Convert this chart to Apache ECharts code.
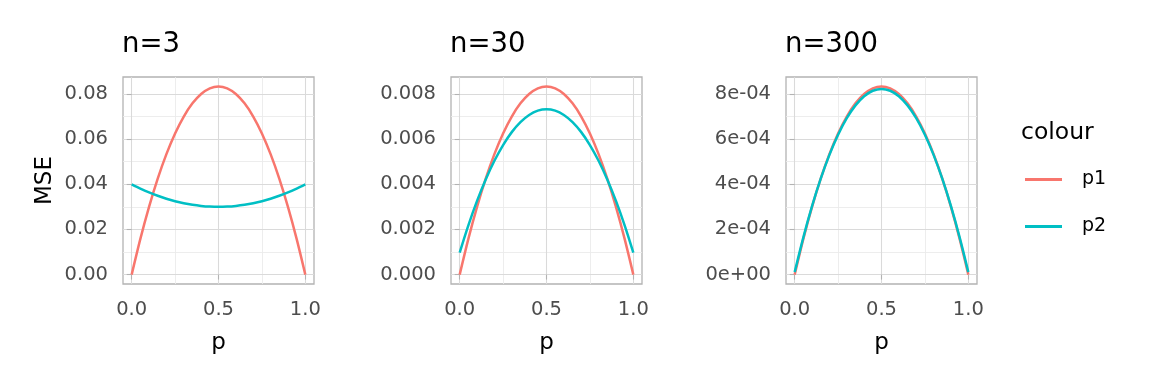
<!DOCTYPE html>
<html>
<head>
<meta charset="utf-8">
<script src="https://cdn.jsdelivr.net/npm/echarts@6/dist/echarts.min.js"></script>
<style>html,body{margin:0;padding:0;background:#fff}#c{width:1152px;height:384px}</style>
</head>
<body>
<div id="c"></div>
<script>
// ---- data ----
const pValues = [0,0.05,0.1,0.15,0.2,0.25,0.3,0.35,0.4,0.45,0.5,0.55,0.6,0.65,0.7,0.75,0.8,0.85,0.9,0.95,1];
const panelTitles = ['n=3', 'n=30', 'n=300'];
const seriesNames = ['p1', 'p2'];

const p1_n3 = [0,0.01583,0.03,0.0425,0.05333,0.0625,0.07,0.07583,0.08,0.0825,0.08333,0.0825,0.08,0.07583,0.07,0.0625,0.05333,0.0425,0.03,0.01583,0];
const p2_n3 = [0.04,0.0381,0.0364,0.0349,0.0336,0.0325,0.0316,0.0309,0.0304,0.0301,0.03,0.0301,0.0304,0.0309,0.0316,0.0325,0.0336,0.0349,0.0364,0.0381,0.04];

const p1_n30 = [0,0.001583,0.003,0.00425,0.005333,0.00625,0.007,0.007583,0.008,0.00825,0.008333,0.00825,0.008,0.007583,0.007,0.00625,0.005333,0.00425,0.003,0.001583,0];
const p2_n30 = [0.000977,0.002183,0.003262,0.004214,0.005039,0.005737,0.006309,0.006753,0.00707,0.007261,0.007324,0.007261,0.00707,0.006753,0.006309,0.005737,0.005039,0.004214,0.003262,0.002183,0.000977];

const p1_n300 = [0,0.0001583,0.0003,0.000425,0.0005333,0.000625,0.0007,0.0007583,0.0008,0.000825,0.0008333,0.000825,0.0008,0.0007583,0.0007,0.000625,0.0005333,0.000425,0.0003,0.0001583,0];
const p2_n300 = [0.000011,0.0001651,0.0003031,0.0004248,0.0005302,0.0006195,0.0006925,0.0007493,0.0007899,0.0008142,0.0008223,0.0008142,0.0007899,0.0007493,0.0006925,0.0006195,0.0005302,0.0004248,0.0003031,0.0001651,0.000011];

const xTickValues = [0, 0.5, 1];
const xTickLabels = ['0.0', '0.5', '1.0'];
const xMinorValues = [0.25, 0.75];

const yTickValues = [
  [0, 0.02, 0.04, 0.06, 0.08],
  [0, 0.002, 0.004, 0.006, 0.008],
  [0, 0.0002, 0.0004, 0.0006, 0.0008]
];
const yTickLabels = [
  ['0.00', '0.02', '0.04', '0.06', '0.08'],
  ['0.000', '0.002', '0.004', '0.006', '0.008'],
  ['0e+00', '2e-04', '4e-04', '6e-04', '8e-04']
];
const yMinorValues = [
  [0.01, 0.03, 0.05, 0.07],
  [0.001, 0.003, 0.005, 0.007],
  [0.0001, 0.0003, 0.0005, 0.0007]
];
const yRanges = [
  [-0.004167, 0.0875],
  [-0.0004167, 0.00875],
  [-0.00004167, 0.000875]
];

const panelData = [[p1_n3, p2_n3], [p1_n30, p2_n30], [p1_n300, p2_n300]];
const colors = ['#F8766D', '#00BFC4'];

// ---- layout ----
const gridLefts = [123, 451, 786];
const gridWidth = 191;
const gridTop = 77;
const gridHeight = 207;
const FONT = '"DejaVu Sans", "Liberation Sans", Arial, sans-serif';

const grids = [], xAxes = [], yAxes = [], series = [], titles = [];

panelTitles.forEach((t, i) => {
  grids.push({left: gridLefts[i], top: gridTop, width: gridWidth, height: gridHeight,
    show: true, borderColor: '#B3B3B3', borderWidth: 1.3, backgroundColor: 'transparent'});
  titles.push({text: t, left: gridLefts[i] - 1, top: 31, padding: 0,
    textStyle: {fontFamily: FONT, fontSize: 27.5, fontWeight: 'normal', color: '#000'}});

  xAxes.push({type: 'value', gridIndex: i, min: -0.05, max: 1.05, position: 'bottom',
    name: 'p', nameLocation: 'middle', nameGap: 48,
    nameTextStyle: {fontFamily: FONT, fontSize: 23, color: '#000'},
    axisLine: {show: false},
    axisTick: {show: true, length: 5, lineStyle: {color: '#B3B3B3', width: 1.1}, customValues: xTickValues},
    axisLabel: {show: true, margin: 16, fontFamily: FONT, fontSize: 19.5, color: '#4D4D4D',
      customValues: xTickValues,
      formatter: v => { const k = xTickValues.findIndex(x => Math.abs(x - v) < 1e-9); return k >= 0 ? xTickLabels[k] : ''; }},
    splitLine: {show: true, lineStyle: {color: '#DADADA', width: 1.1}},
    z: 1
  });
  xAxes.push({type: 'value', gridIndex: i, min: -0.05, max: 1.05, position: 'bottom',
    axisLine: {show: false}, axisTick: {show: false, customValues: xMinorValues},
    axisLabel: {show: false, customValues: xMinorValues},
    splitLine: {show: true, lineStyle: {color: '#EBEBEB', width: 0.9}}, z: 0
  });
  yAxes.push({type: 'value', gridIndex: i, min: yRanges[i][0], max: yRanges[i][1], position: 'left',
    name: i === 0 ? 'MSE' : '', nameLocation: 'middle', nameGap: 66, nameRotate: 90,
    nameTextStyle: {fontFamily: FONT, fontSize: 23, color: '#000'},
    axisLine: {show: false},
    axisTick: {show: true, length: 5, lineStyle: {color: '#B3B3B3', width: 1.1}, customValues: yTickValues[i]},
    axisLabel: {show: true, margin: 15, fontFamily: FONT, fontSize: 19.5, color: '#4D4D4D',
      customValues: yTickValues[i],
      formatter: (v => { const arr = yTickValues[i]; const k = arr.findIndex(x => Math.abs(x - v) < 1e-12); return k >= 0 ? yTickLabels[i][k] : ''; })},
    splitLine: {show: true, lineStyle: {color: '#DADADA', width: 1.1}},
    z: 1
  });
  yAxes.push({type: 'value', gridIndex: i, min: yRanges[i][0], max: yRanges[i][1], position: 'left',
    axisLine: {show: false}, axisTick: {show: false, customValues: yMinorValues[i]},
    axisLabel: {show: false, customValues: yMinorValues[i]},
    splitLine: {show: true, lineStyle: {color: '#EBEBEB', width: 0.9}}, z: 0
  });

  seriesNames.forEach((name, s) => {
    series.push({type: 'line', name: name, xAxisIndex: 2 * i, yAxisIndex: 2 * i,
      data: pValues.map((p, k) => [p, panelData[i][s][k]]),
      smooth: 0.3, symbol: 'none', showSymbol: false,
      lineStyle: {color: colors[s], width: 2.5}, itemStyle: {color: colors[s]},
      animation: false, z: 3});
  });
});

titles.push({text: 'colour', left: 1021, top: 121, padding: 0,
  textStyle: {fontFamily: FONT, fontSize: 23.5, fontWeight: 'normal', color: '#000'}});

const chart = echarts.init(document.getElementById('c'), null, {renderer: 'canvas'});
chart.setOption({
  backgroundColor: '#fff',
  animation: false,
  title: titles,
  grid: grids,
  xAxis: xAxes,
  yAxis: yAxes,
  legend: {data: seriesNames, orient: 'vertical', left: 1025, top: 170, padding: 0,
    icon: 'rect', itemWidth: 37, itemHeight: 3, itemGap: 28,
    textStyle: {fontFamily: FONT, fontSize: 19, color: '#000', padding: [0, 0, 0, 15]},
    selectedMode: false},
  series: series
});
</script>
</body>
</html>
